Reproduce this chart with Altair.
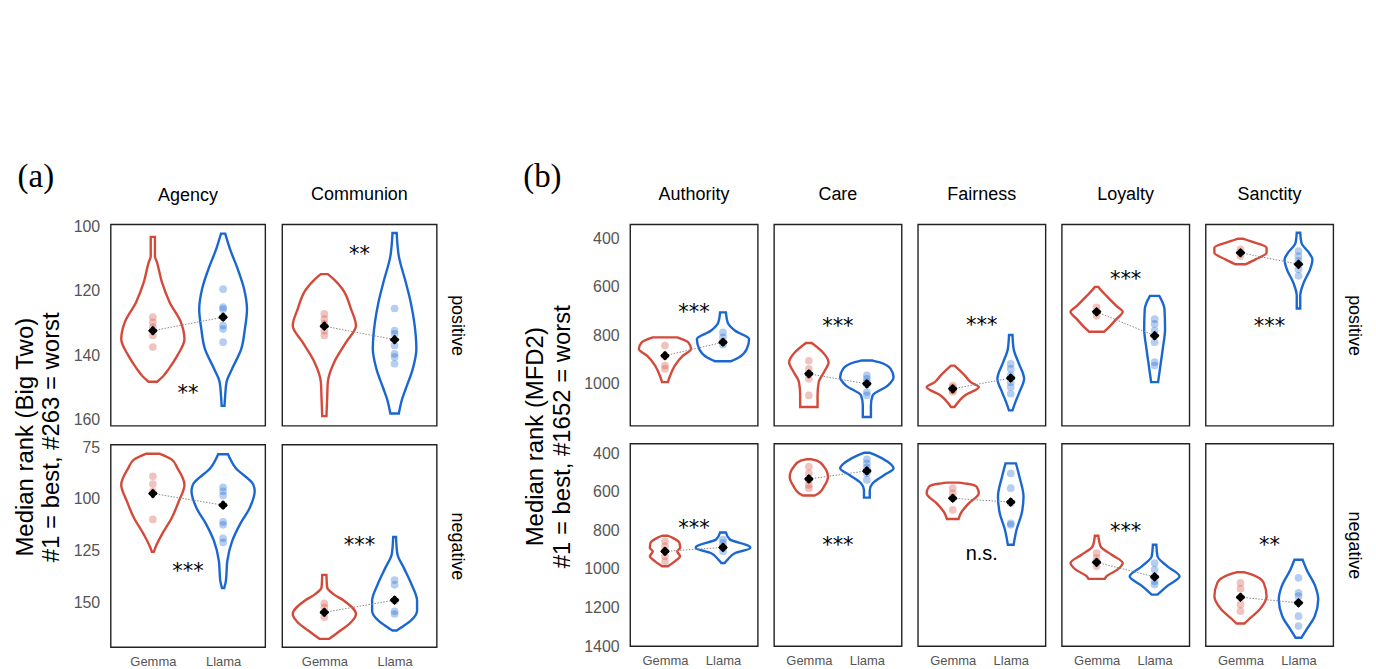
import altair as alt
import pandas as pd

FONT = "Liberation Sans"
MODELS = ["Gemma", "Llama"]
COLORS = ["#d44a3a", "#1a67d2"]
BIG2_CATS = ["Agency", "Communion"]
MFD_CATS = ["Authority", "Care", "Fairness", "Loyalty", "Sanctity"]
ROWS = ["positive", "negative"]

# ---- violin outlines: (rank values, half-widths in x units) ----
V_AGENCY_POS_GEMMA = ([103.2, 109.2, 111.2, 117.4, 123.6, 129.8, 135.0, 140.1, 144.2, 146.5, 148.3],
                      [0.03, 0.03, 0.06, 0.13, 0.24, 0.40, 0.45, 0.35, 0.23, 0.15, 0.06])
V_AGENCY_POS_LLAMA = ([102.2, 107.1, 113.3, 119.5, 125.7, 131.9, 138.0, 144.2, 148.3, 152.5, 155.8],
                      [0.03, 0.10, 0.21, 0.30, 0.34, 0.31, 0.26, 0.13, 0.05, 0.03, 0.02])
V_COMMUNION_POS_GEMMA = ([114.8, 116.5, 119.5, 125.7, 130.8, 136.0, 142.2, 148.3, 153.5, 159.0],
                         [0.05, 0.14, 0.26, 0.38, 0.45, 0.31, 0.14, 0.05, 0.04, 0.03])
V_COMMUNION_POS_LLAMA = ([102.0, 109.2, 117.4, 123.6, 129.8, 138.0, 144.2, 150.4, 153.5, 158.2],
                         [0.03, 0.06, 0.16, 0.23, 0.28, 0.31, 0.26, 0.16, 0.11, 0.06])
V_AGENCY_NEG_GEMMA = ([78.2, 81.0, 85.1, 93.1, 101.1, 109.1, 117.1, 123.6, 125.5],
                      [0.10, 0.27, 0.35, 0.45, 0.37, 0.27, 0.13, 0.035, 0.015])
V_AGENCY_NEG_LLAMA = ([78.4, 85.1, 93.1, 96.3, 104.3, 112.3, 120.3, 130.0, 139.6, 143.1],
                      [0.07, 0.18, 0.43, 0.45, 0.38, 0.24, 0.13, 0.06, 0.04, 0.015])
V_COMMUNION_NEG_GEMMA = ([136.7, 142.8, 146.0, 149.2, 155.6, 159.6, 163.6, 167.6],
                         [0.03, 0.04, 0.13, 0.28, 0.45, 0.38, 0.23, 0.07])
V_COMMUNION_NEG_LLAMA = ([118.4, 126.7, 133.2, 141.2, 149.2, 154.0, 158.8, 162.0, 163.6],
                         [0.02, 0.04, 0.13, 0.24, 0.32, 0.32, 0.23, 0.10, 0.03])

V_AUTHORITY_POS_GEMMA = ([809.7, 830.3, 858, 885.7, 927, 968.4, 995.8], [0.21, 0.40, 0.45, 0.31, 0.17, 0.09, 0.05])
V_AUTHORITY_POS_LLAMA = ([706, 747.5, 782.3, 816.6, 858, 892.3, 908.8], [0.05, 0.08, 0.21, 0.45, 0.41, 0.28, 0.14])
V_CARE_POS_GEMMA = ([833, 871.6, 913, 954.4, 995.8, 1051, 1099], [0.05, 0.24, 0.34, 0.26, 0.17, 0.15, 0.15])
V_CARE_POS_LLAMA = ([906, 913, 940.6, 975, 1009.8, 1051, 1092.5, 1140.5], [0.10, 0.21, 0.41, 0.46, 0.36, 0.10, 0.07, 0.07])
V_FAIRNESS_POS_GEMMA = ([927, 968.4, 995.8, 1016.4, 1051, 1099], [0.03, 0.21, 0.31, 0.45, 0.21, 0.03])
V_FAIRNESS_POS_LLAMA = ([800, 858, 913, 982, 1037, 1078.5, 1113], [0.03, 0.05, 0.13, 0.23, 0.15, 0.08, 0.03])
V_LOYALTY_POS_GEMMA = ([600, 612, 637.4, 678.8, 703.6, 733.9, 768.2, 786.4], [0.03, 0.07, 0.17, 0.34, 0.45, 0.34, 0.21, 0.13])
V_LOYALTY_POS_LLAMA = ([637.4, 692.5, 775.2, 858, 927, 995.8], [0.08, 0.17, 0.18, 0.14, 0.10, 0.06])
V_SANCTITY_POS_GEMMA = ([400, 410, 437, 458, 485.6, 506], [0.05, 0.17, 0.45, 0.45, 0.26, 0.09])
V_SANCTITY_POS_LLAMA = ([375, 416.6, 458, 485.6, 527, 582, 637.4, 689.6], [0.03, 0.05, 0.18, 0.24, 0.20, 0.09, 0.03, 0.03])
V_AUTHORITY_NEG_GEMMA = ([827.6, 839.5, 865, 891, 908.5, 934.5, 960.4, 986], [0.05, 0.14, 0.25, 0.26, 0.21, 0.26, 0.17, 0.05])
V_AUTHORITY_NEG_LLAMA = ([810.5, 847, 883, 891, 917, 951.7, 969], [0.05, 0.12, 0.46, 0.47, 0.21, 0.08, 0.03])
V_CARE_NEG_GEMMA = ([431, 438, 469, 521, 572.7, 607, 619], [0.05, 0.14, 0.26, 0.33, 0.26, 0.17, 0.10])
V_CARE_NEG_LLAMA = ([397, 409, 443.6, 477.7, 512, 555, 590, 629.5], [0.05, 0.15, 0.36, 0.46, 0.30, 0.10, 0.05, 0.05])
V_FAIRNESS_NEG_GEMMA = ([552, 558, 572.7, 606.8, 658.5, 710, 741], [0.10, 0.25, 0.41, 0.45, 0.28, 0.14, 0.10])
V_FAIRNESS_NEG_LLAMA = ([452, 521, 624.4, 710, 796.6, 874], [0.09, 0.15, 0.22, 0.19, 0.10, 0.05])
V_LOYALTY_NEG_GEMMA = ([827.6, 883, 925.8, 969, 1003.4, 1038, 1051.5], [0.03, 0.07, 0.26, 0.45, 0.36, 0.17, 0.14])
V_LOYALTY_NEG_LLAMA = ([874, 934.5, 986, 1038, 1089.8, 1132.7], [0.03, 0.05, 0.22, 0.43, 0.21, 0.05])
V_SANCTITY_NEG_GEMMA = ([1017, 1029, 1072, 1141.5, 1210, 1262, 1282.6], [0.07, 0.20, 0.40, 0.45, 0.33, 0.14, 0.07])
V_SANCTITY_NEG_LLAMA = ([951.7, 1003.4, 1089.8, 1158.5, 1244.8, 1313.7, 1357], [0.07, 0.14, 0.29, 0.34, 0.28, 0.14, 0.05])

# ---- per-run median ranks (points) ----
P_AGENCY_POS_GEMMA = [128.2, 129.8, 131.3, 133.9, 137.5]
P_AGENCY_POS_LLAMA = [119.5, 125.1, 125.7, 128.2, 130.8, 131.9, 136.0]
P_COMMUNION_POS_GEMMA = [127.2, 128.8, 130.3, 132.4, 133.9]
P_COMMUNION_POS_LLAMA = [125.5, 132.4, 133.4, 137.0, 139.6, 140.6, 142.7]
P_AGENCY_NEG_GEMMA = [89.1, 92.8, 96.5, 109.9]
P_AGENCY_NEG_LLAMA = [94.4, 96.3, 98.4, 111.1, 112.5, 119.0, 121.0]
P_COMMUNION_NEG_GEMMA = [150.5, 152.4, 154.8, 157.2]
P_COMMUNION_NEG_LLAMA = [139.2, 141.5, 149.2, 154.3, 155.6]
P_AUTHORITY_POS_GEMMA = [844, 886, 927, 941]
P_AUTHORITY_POS_LLAMA = [789, 810, 830, 840]
P_CARE_POS_GEMMA = [907, 941, 961, 982, 1051]
P_CARE_POS_LLAMA = [968, 982, 996, 1003, 1037, 1051]
P_FAIRNESS_POS_GEMMA = [1010, 1018, 1023, 1030, 1036]
P_FAIRNESS_POS_LLAMA = [920, 941, 968, 996, 1016, 1044]
P_LOYALTY_POS_GEMMA = [685, 703.6, 720]
P_LOYALTY_POS_LLAMA = [734, 754, 782, 803, 830, 913, 927]
P_SANCTITY_POS_GEMMA = [444, 458, 472]
P_SANCTITY_POS_LLAMA = [451, 472, 492, 506, 527, 554]
P_AUTHORITY_NEG_GEMMA = [856, 882, 908.5, 934.5, 960]
P_AUTHORITY_NEG_LLAMA = [847, 865, 887, 908]
P_CARE_NEG_GEMMA = [469, 504, 538, 564, 581]
P_CARE_NEG_LLAMA = [431, 452, 473, 490, 504, 538]
P_FAIRNESS_NEG_GEMMA = [581, 607, 634, 693]
P_FAIRNESS_NEG_LLAMA = [504, 581, 657, 763, 771]
P_LOYALTY_NEG_GEMMA = [917, 943, 965, 986]
P_LOYALTY_NEG_LLAMA = [969, 1003, 1038, 1064, 1081]
P_SANCTITY_NEG_GEMMA = [1072, 1103, 1146, 1184, 1219]
P_SANCTITY_NEG_LLAMA = [1046, 1124, 1141, 1175, 1245, 1296]

# ---- means (Gemma, Llama) per category ----
BIG2_POS_MEAN_GEMMA = [132.4, 131.0]
BIG2_POS_MEAN_LLAMA = [128.2, 135.2]
BIG2_NEG_MEAN_GEMMA = [97.4, 154.8]
BIG2_NEG_MEAN_LLAMA = [103.0, 148.9]
MFD_POS_MEAN_GEMMA = [885.7, 961.4, 1023.4, 703.6, 458]
MFD_POS_MEAN_LLAMA = [830, 1002.7, 979, 802.6, 506]
MFD_NEG_MEAN_GEMMA = [908.5, 533, 633, 965.6, 1146.6]
MFD_NEG_MEAN_LLAMA = [888, 491, 653, 1041, 1175.6]

# ---- significance labels and their rank positions ----
BIG2_POS_SIG = ["**", "**"]
BIG2_POS_SIG_RANK = [150.4, 107.1]
BIG2_NEG_SIG = ["***", "***"]
BIG2_NEG_SIG_RANK = [132.4, 120.0]
MFD_POS_SIG = ["***", "***", "***", "***", "***"]
MFD_POS_SIG_RANK = [685.5, 741, 736.7, 547.7, 741]
MFD_NEG_SIG = ["***", "***", "n.s.", "***", "**"]
MFD_NEG_SIG_RANK = [762, 848, 917, 779.5, 848]

# ---- axis domains / ticks ----
BIG2_POS_DOMAIN = [99.3, 162.0]
BIG2_POS_TICKS = [100, 120, 140, 160]
BIG2_NEG_DOMAIN = [73.8, 171.6]
BIG2_NEG_TICKS = [75, 100, 125, 150]
MFD_POS_DOMAIN = [340, 1177]
MFD_POS_TICKS = [400, 600, 800, 1000]
MFD_NEG_DOMAIN = [350, 1400]
MFD_NEG_TICKS = [400, 600, 800, 1000, 1200, 1400]

g = globals()


def series(prefix, cat, row, model):
    return g[f"{prefix}_{cat.upper()}_{'POS' if row == 'positive' else 'NEG'}_{model.upper()}"]


BLOCKS = {
    "big2": dict(cats=BIG2_CATS, width=155, spacing=15, row_spacing=9, tag_dx=4,
                 means={"positive": (BIG2_POS_MEAN_GEMMA, BIG2_POS_MEAN_LLAMA),
                        "negative": (BIG2_NEG_MEAN_GEMMA, BIG2_NEG_MEAN_LLAMA)},
                 sig={"positive": (BIG2_POS_SIG, BIG2_POS_SIG_RANK),
                      "negative": (BIG2_NEG_SIG, BIG2_NEG_SIG_RANK)},
                 dom={"positive": (BIG2_POS_DOMAIN, BIG2_POS_TICKS),
                      "negative": (BIG2_NEG_DOMAIN, BIG2_NEG_TICKS)}),
    "mfd": dict(cats=MFD_CATS, width=128, spacing=14.3, row_spacing=16, tag_dx=-1,
                means={"positive": (MFD_POS_MEAN_GEMMA, MFD_POS_MEAN_LLAMA),
                       "negative": (MFD_NEG_MEAN_GEMMA, MFD_NEG_MEAN_LLAMA)},
                sig={"positive": (MFD_POS_SIG, MFD_POS_SIG_RANK),
                     "negative": (MFD_NEG_SIG, MFD_NEG_SIG_RANK)},
                dom={"positive": (MFD_POS_DOMAIN, MFD_POS_TICKS),
                     "negative": (MFD_NEG_DOMAIN, MFD_NEG_TICKS)}),
}

HEIGHTS = {"positive": 202, "negative": 203}
cscale = alt.Scale(domain=MODELS, range=COLORS)
xscale = alt.Scale(domain=[-0.6, 1.6], nice=False, zero=False)


def panel(block, ci, row):
    b = BLOCKS[block]
    cat = b["cats"][ci]
    ncols = len(b["cats"])
    dom, ticks = b["dom"][row]
    yscale = alt.Scale(domain=dom, reverse=True, zero=False, nice=False)

    if ci == 0:
        yaxis = alt.Axis(values=ticks, format="d", ticks=False, domain=False, grid=False, labelFontSize=16,
                         labelColor="#555555", labelPadding=11, labelFlush=False, title=None,
                         labelFont=FONT)
    elif ci == ncols - 1:
        yaxis = alt.Axis(orient="right", labels=False, ticks=False, domain=False, grid=False,
                         title=row, titleFontSize=18, titleFontWeight="normal", titlePadding=11,
                         titleColor="black", titleFont=FONT)
    else:
        yaxis = None

    if row == "negative":
        xaxis = alt.Axis(values=[0, 1], labelExpr="datum.value == 0 ? 'Gemma' : 'Llama'",
                         ticks=False, domain=False, grid=False, title=None, labelFontSize=13,
                         labelColor="#555555", labelPadding=8, labelFont=FONT)
    else:
        xaxis = None

    vrec, prec = [], []
    for mi, m in enumerate(MODELS):
        ranks, hws = series("V", cat, row, m)
        for r, w in zip(ranks, hws):
            vrec.append({"model": m, "rank": r, "lo": mi - w, "hi": mi + w})
        for r in series("P", cat, row, m):
            prec.append({"model": m, "pos": mi, "rank": r})
    mg, ml = b["means"][row]
    mdf = pd.DataFrame({"model": MODELS, "pos": [0, 1], "rank": [mg[ci], ml[ci]]})
    labels, lranks = b["sig"][row]
    sdf = pd.DataFrame({"label": [labels[ci]], "pos": [0.5], "rank": [lranks[ci]]})

    Y = lambda f: alt.Y(f"{f}:Q", scale=yscale, axis=yaxis)
    X = lambda f: alt.X(f"{f}:Q", scale=xscale, axis=xaxis)

    violin = alt.Chart(pd.DataFrame(vrec)).mark_area(
        orient="horizontal", interpolate="monotone", fillOpacity=0, strokeWidth=2.4
    ).encode(y=Y("rank"), x=X("lo"), x2="hi:Q",
             stroke=alt.Stroke("model:N", scale=cscale, legend=None))
    pts = alt.Chart(pd.DataFrame(prec)).mark_circle(size=60, opacity=0.33).encode(
        y=Y("rank"), x=X("pos"), color=alt.Color("model:N", scale=cscale, legend=None))
    mline = alt.Chart(mdf).mark_line(color="#8a8a8a", strokeDash=[1.5, 1.5], strokeWidth=1).encode(
        y=Y("rank"), x=X("pos"))
    mcross = alt.Chart(mdf).mark_point(shape="cross", filled=True, color="black", size=60, opacity=1).encode(
        y=Y("rank"), x=X("pos"))
    mdia = alt.Chart(mdf).mark_point(shape="diamond", filled=True, color="black", size=95, opacity=1).encode(
        y=Y("rank"), x=X("pos"))
    stars = alt.Chart(sdf).transform_filter("datum.label != 'n.s.'").mark_text(
        font="DejaVu Sans", fontSize=21, color="black", baseline="alphabetic", dy=12
    ).encode(y=Y("rank"), x=X("pos"), text="label:N")
    ns = alt.Chart(sdf).transform_filter("datum.label == 'n.s.'").mark_text(
        font=FONT, fontSize=20, color="black", baseline="alphabetic", dy=7
    ).encode(y=Y("rank"), x=X("pos"), text="label:N")

    props = dict(width=b["width"], height=HEIGHTS[row])
    if row == "positive":
        # the first panel's upper tick label pokes above the frame; compensate so titles line up
        off = 14 if (block == "big2" and ci == 0) else 20
        props["title"] = alt.TitleParams(cat, fontSize=18, fontWeight="normal", font=FONT,
                                         color="black", offset=off)
    return alt.layer(violin, pts, mline, mcross, mdia, stars, ns).properties(**props)


def block_chart(block, ytitle, tag):
    b = BLOCKS[block]
    rows = [alt.hconcat(*[panel(block, ci, row) for ci in range(len(b["cats"]))], spacing=b["spacing"])
            for row in ROWS]
    inner = alt.vconcat(*rows, spacing=b["row_spacing"]).properties(
        title=alt.TitleParams(ytitle, orient="left", anchor="middle", fontSize=24, fontWeight="normal",
                              lineHeight=27, offset=8, font=FONT, color="black", dx=-10))
    return alt.vconcat(inner).properties(
        title=alt.TitleParams(tag, anchor="start", font="Liberation Serif", fontSize=33,
                              fontWeight="normal", color="black", offset=-8, dx=b["tag_dx"]))


chartA = block_chart("big2", ["Median rank (Big Two)", "#1 = best, #263 = worst"], "(a)")
chartB = block_chart("mfd", ["Median rank (MFD2)", "#1 = best, #1652 = worst"], "(b)")

chart = alt.hconcat(chartA, chartB, spacing=56).properties(
    padding={"left": 5, "top": 152, "right": 5, "bottom": 5},
    background="white",
).configure_view(stroke="#222222", strokeWidth=1.4)

chart.save("out.html", embed_options={"renderer": "svg", "actions": False})
